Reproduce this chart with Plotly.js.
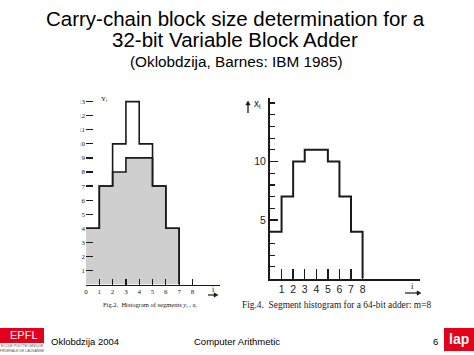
<!DOCTYPE html>
<html><head><meta charset="utf-8">
<script src="https://cdn.plot.ly/plotly-3.0.1.min.js"></script>
<style>html,body{margin:0;padding:0;background:#fff}#chart{width:474px;height:355px}</style>
</head><body><div id="chart"></div>
<script>
// ---- Fig. 2 (left): 32-bit histogram of segments ----
const segEdges32 = [0, 1, 2, 3, 4, 5, 6, 7];
const xi32 = [4, 7, 8, 9, 9, 7, 4];        // shaded histogram x_i
const yi32 = [4, 7, 10, 13, 10, 7, 4];     // outline histogram y_i
const xTicks32 = [0, 1, 2, 3, 4, 5, 6, 7, 8];
const yTicks32 = [1, 2, 3, 4, 5, 6, 7, 8, 9, 10, 11, 12, 13];

// ---- Fig. 4 (right): 64-bit adder segment histogram, m = 8 ----
const segEdges64 = [0, 1, 2, 3, 4, 5, 6, 7, 8];
const xi64 = [4, 7, 10, 11, 11, 10, 7, 4];
const xTicks64 = [1, 2, 3, 4, 5, 6, 7, 8];
const yTicks64 = [5, 10];

const W = 474, H = 355;
const fx = p => p / W;
const fy = p => 1 - p / H;

function step(edges, vals) {
  const xs = [], ys = [];
  for (let i = 0; i < vals.length; i++) { xs.push(edges[i]); ys.push(vals[i]); }
  xs.push(edges[vals.length]); ys.push(vals[vals.length - 1]);
  xs.push(edges[vals.length]); ys.push(0);
  return {x: xs, y: ys};
}

const ink = '#1a1a1a';
const s32x = step(segEdges32, xi32);
const s32y = step(segEdges32, yi32);
const s64 = step(segEdges64, xi64);

const traces = [
  {x: s32x.x, y: s32x.y, xaxis: 'x', yaxis: 'y', type: 'scatter', mode: 'lines',
   line: {shape: 'hv', color: ink, width: 1.6}, fill: 'tozeroy', fillcolor: '#cfcfcf', hoverinfo: 'skip'},
  {x: s32y.x, y: s32y.y, xaxis: 'x', yaxis: 'y', type: 'scatter', mode: 'lines',
   line: {shape: 'hv', color: ink, width: 1.6}, hoverinfo: 'skip'},
  {x: s64.x, y: s64.y, xaxis: 'x2', yaxis: 'y2', type: 'scatter', mode: 'lines',
   line: {shape: 'hv', color: ink, width: 2}, hoverinfo: 'skip'}
];

const serif = 'Liberation Serif';
const sans = 'Liberation Sans';

const annotations = [
  // slide title
  {text: 'Carry-chain block size determination for a', x: fx(235), y: fy(18), font: {family: sans, size: 20.5, color: '#000'}},
  {text: '32-bit Variable Block Adder', x: fx(235), y: fy(40), font: {family: sans, size: 20.5, color: '#000'}},
  {text: '(Oklobdzija, Barnes: IBM 1985)', x: fx(236), y: fy(61), font: {family: sans, size: 15.3, color: '#000'}},
  // left figure labels
  {text: 'Y<sub>i</sub>', x: fx(104), y: fy(99), font: {family: serif, size: 7, color: ink}},
  {text: 'i', x: fx(213), y: fy(289), font: {family: serif, size: 8, color: ink}},
  {text: 'Fig.2.  Histogram of segments <i>y<sub>i</sub></i> , <i>x<sub>i</sub></i>', x: fx(150), y: fy(305), font: {family: serif, size: 6.5, color: ink}},
  // right figure labels
  {text: 'x<sub>i</sub>', x: fx(257), y: fy(104), font: {family: sans, size: 10, color: ink}},
  {text: 'i', x: fx(412), y: fy(286), font: {family: serif, size: 9, color: ink}},
  {text: 'Fig.4.  Segment histogram for a 64-bit adder: m=8', x: fx(336), y: fy(305), font: {family: serif, size: 9.4, color: ink}},
  // footer
  {text: 'EPFL', x: fx(24), y: fy(335), font: {family: sans, size: 11, color: '#fff'}},
  {text: 'ÉCOLE POLYTECHNIQUE<br>FÉDÉRALE DE LAUSANNE', x: fx(22), y: fy(348), font: {family: sans, size: 3.5, color: '#555'}},
  {text: 'Oklobdzija 2004', x: fx(85), y: fy(341), font: {family: sans, size: 9.5, color: '#000'}},
  {text: 'Computer Arithmetic', x: fx(237), y: fy(341), font: {family: sans, size: 9.5, color: '#000'}},
  {text: '6', x: fx(435), y: fy(341), font: {family: sans, size: 9.5, color: '#000'}},
  {text: '<b>lap</b>', x: fx(459), y: fy(339), font: {family: sans, size: 14, color: '#fff'}}
].map(a => Object.assign({xref: 'paper', yref: 'paper', showarrow: false, xanchor: 'center', yanchor: 'middle'}, a));

// arrow drawn as shapes (shaft + head), pixel coordinates converted to paper
function arrow(x0, y0, x1, y1, w) {
  const dx = x1 - x0, dy = y1 - y0, L = Math.hypot(dx, dy);
  const ux = dx / L, uy = dy / L, hl = 4, hw = 2.2;
  const bx = x1 - ux * hl, by = y1 - uy * hl;
  const p1 = [bx - uy * hw, by + ux * hw], p2 = [bx + uy * hw, by - ux * hw];
  return [
    {type: 'line', xref: 'paper', yref: 'paper', x0: fx(x0), y0: fy(y0), x1: fx(bx), y1: fy(by),
     line: {color: ink, width: w}},
    {type: 'path', xref: 'paper', yref: 'paper',
     path: `M ${fx(x1)} ${fy(y1)} L ${fx(p1[0])} ${fy(p1[1])} L ${fx(p2[0])} ${fy(p2[1])} Z`,
     fillcolor: ink, line: {color: ink, width: 0.5}}
  ];
}

const shapes = [
  // scan crop on the left of Fig.2 (hides the leading digits of its y labels)
  {type: 'rect', xref: 'paper', yref: 'paper', x0: 0, x1: fx(80.5), y0: fy(300), y1: fy(85),
   fillcolor: '#fff', line: {width: 0}, layer: 'above'},
  // logos
  {type: 'rect', xref: 'paper', yref: 'paper', x0: fx(0), x1: fx(44), y0: fy(343), y1: fy(328),
   fillcolor: '#e2001a', line: {width: 0}, layer: 'below'},
  {type: 'rect', xref: 'paper', yref: 'paper', x0: fx(444), x1: fx(474), y0: fy(351), y1: fy(328),
   fillcolor: '#e2001a', line: {width: 0}, layer: 'below'},
  ...arrow(208, 295, 218, 295, 1.2),
  ...arrow(248, 113, 248, 101, 1.3),
  ...arrow(405, 293, 421, 293, 1.2)
];

const layout = {
  width: W, height: H,
  margin: {l: 0, r: 0, t: 0, b: 0},
  paper_bgcolor: '#fff', plot_bgcolor: 'rgba(0,0,0,0)',
  showlegend: false,
  xaxis: {domain: [fx(86), fx(220)], range: [0, 10.07], anchor: 'y', fixedrange: true,
    showline: true, linecolor: ink, linewidth: 1.5, showgrid: false, zeroline: false,
    ticks: 'inside', ticklen: 6, tickwidth: 1.2, tickcolor: ink,
    tickvals: xTicks32, ticktext: xTicks32.map(String),
    tickfont: {family: serif, size: 7, color: ink}},
  yaxis: {domain: [fy(284.5), fy(87.6)], range: [0, 14], anchor: 'x', fixedrange: true,
    showline: false, showgrid: false, zeroline: false,
    ticks: 'inside', ticklen: 7, tickwidth: 1.2, tickcolor: ink,
    tickvals: yTicks32, ticktext: yTicks32.map(String),
    tickfont: {family: serif, size: 7, color: ink}},
  xaxis2: {domain: [fx(270), fx(420)], range: [0, 12.96], anchor: 'y2', fixedrange: true,
    showline: true, linecolor: ink, linewidth: 2, showgrid: false, zeroline: false,
    ticks: 'inside', ticklen: 10, tickwidth: 1.4, tickcolor: ink,
    tickvals: xTicks64, ticktext: xTicks64.map(String),
    tickfont: {family: sans, size: 10.5, color: ink}},
  yaxis2: {domain: [fy(278.5), fy(98)], range: [0, 15.43], anchor: 'x2', fixedrange: true,
    showline: true, linecolor: ink, linewidth: 2, showgrid: false, zeroline: false,
    ticks: 'inside', ticklen: 8, tickwidth: 1.4, tickcolor: ink,
    tickvals: yTicks64, ticktext: yTicks64.map(String),
    minor: {dtick: 1, ticks: 'inside', ticklen: 5, tickwidth: 1.2, tickcolor: ink, showgrid: false},
    tickfont: {family: sans, size: 10.5, color: ink}},
  annotations: annotations,
  shapes: shapes
};

Plotly.newPlot('chart', traces, layout, {staticPlot: true, displayModeBar: false});
</script>
</body></html>
